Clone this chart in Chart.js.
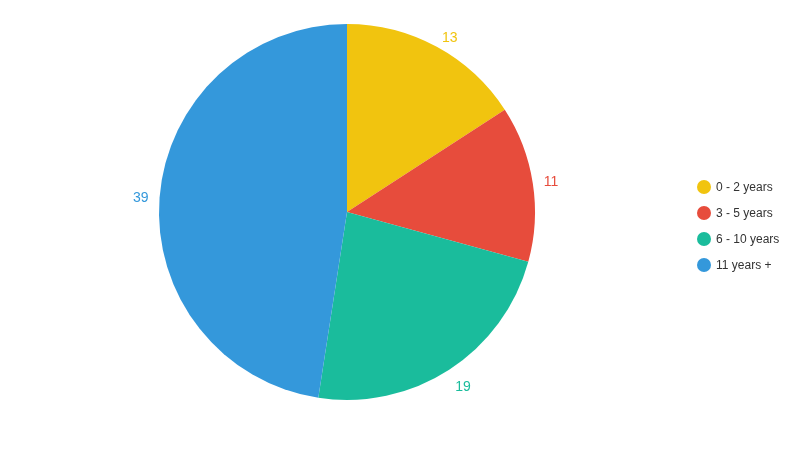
<!DOCTYPE html>
<html>
<head>
<meta charset="utf-8">
<script src="https://cdn.jsdelivr.net/npm/chart.js@4/dist/chart.umd.min.js"></script>
<style>
  html, body { margin: 0; padding: 0; background: #fff; }
  #wrap { width: 800px; height: 450px; }
</style>
</head>
<body>
<div id="wrap"><canvas id="pieChart" width="800" height="450"></canvas></div>
<script>
// 데이터
const categories = ['0 - 2 years', '3 - 5 years', '6 - 10 years', '11 years +'];
const counts = [13, 11, 19, 39];
const sliceColors = ['#f1c40f', '#e74c3c', '#1abc9c', '#3498db'];

const FONT = '"Liberation Sans", Arial, sans-serif';

// 조각 바깥쪽 값 라벨
const outerLabels = {
    id: 'outerLabels',
    afterDatasetsDraw(chart) {
        const ctx = chart.ctx;
        const meta = chart.getDatasetMeta(0);
        ctx.save();
        ctx.font = '14px ' + FONT;
        meta.data.forEach((arc, i) => {
            const p = arc.getProps(['x', 'y', 'startAngle', 'endAngle', 'outerRadius'], true);
            const mid = (p.startAngle + p.endAngle) / 2;
            const r = p.outerRadius + 11;
            const lx = p.x + Math.cos(mid) * r;
            const ly = p.y + Math.sin(mid) * r;
            ctx.textAlign = lx >= p.x ? 'left' : 'right';
            ctx.textBaseline = ly > p.y ? 'top' : 'middle';
            ctx.fillStyle = sliceColors[i];
            ctx.fillText(String(counts[i]), lx, ly + 1);
        });
        ctx.restore();
    }
};

// 오른쪽 범례
const sideLegend = {
    id: 'sideLegend',
    afterDraw(chart) {
        const ctx = chart.ctx;
        const x0 = 704, y0 = 187, gap = 26;
        ctx.save();
        ctx.font = '12px ' + FONT;
        ctx.textAlign = 'left';
        ctx.textBaseline = 'middle';
        categories.forEach((name, i) => {
            const y = y0 + i * gap;
            ctx.beginPath();
            ctx.arc(x0, y, 7, 0, Math.PI * 2);
            ctx.fillStyle = sliceColors[i];
            ctx.fill();
            ctx.fillStyle = '#333';
            ctx.fillText(name, x0 + 12, y + 0.5);
        });
        ctx.restore();
    }
};

new Chart(document.getElementById('pieChart'), {
    type: 'pie',
    data: {
        labels: categories,
        datasets: [{
            data: counts,
            backgroundColor: sliceColors,
            borderWidth: 0
        }]
    },
    options: {
        responsive: false,
        animation: false,
        layout: { padding: { top: 24, bottom: 50, left: 0, right: 106 } },
        plugins: {
            legend: { display: false },
            tooltip: { enabled: false }
        }
    },
    plugins: [outerLabels, sideLegend]
});
</script>
</body>
</html>
